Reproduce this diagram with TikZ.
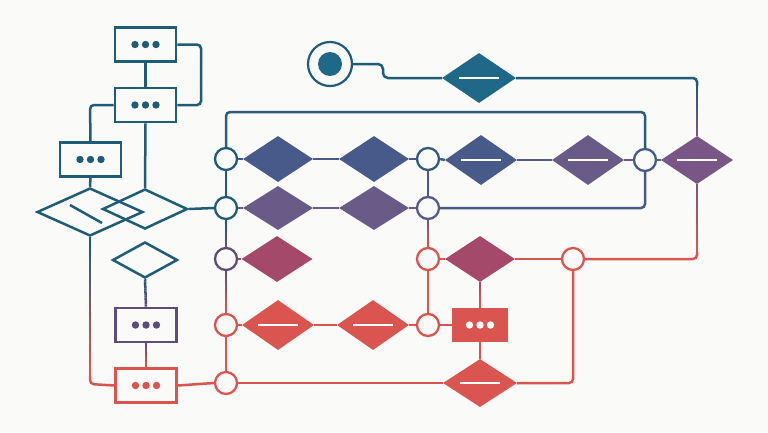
\documentclass[tikz,border=0pt]{standalone}
\usetikzlibrary{shapes.geometric,calc}
\definecolor{bgc}{HTML}{FAFAF8}
\definecolor{cTeal}{HTML}{1E5C78}
\definecolor{cTealF}{HTML}{1F6888}
\definecolor{cSlate}{HTML}{485A8A}
\definecolor{cPurp}{HTML}{695A88}
\definecolor{cPlum}{HTML}{7A5686}
\definecolor{cBoxP}{HTML}{5E4C7A}
\definecolor{cRasp}{HTML}{A5496B}
\definecolor{cRed}{HTML}{DB5550}
\newcommand\gradline[4]{%
  \foreach \k in {1,...,12}{%
    \pgfmathtruncatemacro\pc{100-(\k-1)*100/11}%
    \pgfmathsetmacro\fa{(\k-1)/12}%
    \pgfmathsetmacro\fb{\k/12}%
    \draw[line width=2.5pt, line cap=butt, color=#3!\pc!#4] ($(#1)!\fa!(#2)$) -- ($(#1)!\fb!(#2)$);
  }}
\newcommand\threedots[2]{%
  \foreach \dx in {-10.5,0,10.5}{\fill[#2] ($(#1)+(\dx,0)$) circle (3.7);}}
\newcommand\wbar[1]{\draw[white, line width=2.6pt] ($(#1)+(-20,0)$) -- ($(#1)+(20,0)$);}
\begin{document}
\begin{tikzpicture}[x=1pt,y=-1pt,
  box/.style={draw, line width=2.6pt, minimum width=61pt, minimum height=34pt, inner sep=0pt, fill=bgc},
  odia/.style={diamond, draw, line width=2.5pt, inner sep=0pt},
  fdia/.style={diamond, inner sep=0pt, minimum width=72pt, minimum height=48pt},
  circ/.style={circle, draw, line width=2.3pt, fill=bgc, minimum size=22pt, inner sep=0pt},
  conn/.style={line width=2.5pt, rounded corners=4pt}]
\fill[bgc] (0,0) rectangle (768,432);
\useasboundingbox (0,0) rectangle (768,432);

% left cluster
\node[box, draw=cTeal] (b1) at (145.5,44.5) {};
\node[box, draw=cTeal] (b2) at (145.5,105) {};
\node[box, draw=cTeal] (b3) at (90.5,159.5) {};
\node[odia, draw=cTeal, minimum width=106pt, minimum height=48pt] (dA) at (90,212) {};
\node[odia, draw=cTeal, minimum width=85pt, minimum height=40pt] (dB) at (145,209) {};
\node[odia, draw=cTeal, minimum width=65pt, minimum height=36pt] (dC) at (145,260) {};
\node[box, draw=cBoxP] (b4) at (146,325) {};
\node[box, draw=cRed] (b5) at (146,385.5) {};
\threedots{b1}{cTeal}
\threedots{b2}{cTeal}
\threedots{b3}{cTeal}
\threedots{b4}{cBoxP}
\threedots{b5}{cRed}
\draw[cTeal, line width=2.5pt] ($(dA)+(-20,-7)$) -- ($(dA)+(12,11)$);

% start
\node[circle, draw=cTeal, line width=2.2pt, minimum size=44pt, inner sep=0pt] (S0) at (330,64) {};
\fill[cTealF] (S0) circle (12);

% circles
\node[circ, draw=cTeal] (C1) at (226,159) {};
\node[circ, draw=cTeal] (C2) at (226,208) {};
\node[circ, draw=cBoxP] (C3) at (226,259) {};
\node[circ, draw=cRed] (C4) at (226,325) {};
\node[circ, draw=cRed] (C5) at (226,383) {};
\node[circ, draw=cTeal!50!cSlate] (C6) at (428,159) {};
\node[circ, draw=cSlate!60!cPurp] (C9) at (428,208) {};
\node[circ, draw=cRed] (C10) at (428,259) {};
\node[circ, draw=cRed] (C12) at (428,325) {};
\node[circ, draw=cSlate] (C8) at (645,160) {};
\node[circ, draw=cRed] (C11) at (573,259) {};

% filled diamonds
\node[fdia, fill=cTealF, minimum width=74pt, minimum height=50pt] (Dt) at (479,78) {};
\node[fdia, fill=cSlate, minimum width=70pt, minimum height=46pt] (r1a) at (278,159) {};
\node[fdia, fill=cSlate, minimum width=70pt, minimum height=46pt] (r1b) at (374,159) {};
\node[fdia, fill=cSlate, minimum height=50pt] (r1c) at (481,160) {};
\node[fdia, fill=cPurp, minimum height=50pt] (r1d) at (588,160) {};
\node[fdia, fill=cPlum] (DR) at (697,160) {};
\node[fdia, fill=cPurp, minimum width=70pt, minimum height=44pt] (r2a) at (278,208) {};
\node[fdia, fill=cPurp, minimum width=70pt, minimum height=44pt] (r2b) at (374,208) {};
\node[fdia, fill=cRasp, minimum width=71pt, minimum height=46pt] (r3a) at (277,259) {};
\node[fdia, fill=cRasp, minimum width=70pt, minimum height=46pt] (r3b) at (480,259) {};
\node[fdia, fill=cRed, minimum height=50pt] (r4a) at (278,325) {};
\node[fdia, fill=cRed, minimum height=50pt] (r4b) at (373,325) {};
\node[fdia, fill=cRed, minimum width=74pt] (Db) at (480,383) {};
\node[fill=cRed, minimum width=56pt, minimum height=34pt, inner sep=0pt] (Sb) at (480,325) {};
\threedots{Sb}{white}
\wbar{Dt}\wbar{r1c}\wbar{r1d}\wbar{DR}\wbar{r4a}\wbar{r4b}\wbar{Db}

% helper coordinates
\coordinate (k1) at (90,384);
\coordinate (k1b) at (90,376);
\coordinate (k3) at (697,259);
\coordinate (k3b) at (697,252);
\coordinate (k4) at (697,78);
\coordinate (k4b) at (697,86);

% left cluster connectors
\draw[conn, cTeal] (b1.south) -- (b2.north);
\draw[conn, cTeal] (b1.east) -- (201,44.5) -- (201,105) -- (b2.east);
\draw[conn, cTeal] (b2.west) -- (90,105) -- (b3.north);
\draw[conn, cTeal] (b3.south) -- (dA.north);
\draw[conn, cTeal] (b2.south) -- (dB.north);
\draw[conn, cTeal] (dB.east) -- (C2.west);
\gradline{dA.south}{k1b}{cTeal}{cRed}
\draw[conn, cRed] (k1b) -- (k1) -- (b5.west);
\gradline{dC.south}{b4.north}{cTeal}{cBoxP}
\gradline{b4.south}{b5.north}{cBoxP}{cRed}
\draw[conn, cRed] (b5.east) -- (C5.west);

% start line
\draw[conn, cTeal, rounded corners=5pt] (S0.east) -- (383,64) -- (383,78) -- (Dt.west);
\draw[conn, cTeal] (Dt.east) -- (k4) -- (k4b);
\gradline{k4b}{DR.north}{cTeal}{cPlum}

% loops
\draw[conn, cTeal!60!cSlate] (C1.north) -- (226,112) -- (645,112) -- (C8.north);
\draw[conn, cSlate] (C9.east) -- (645,208) -- (C8.south);

% trunk
\draw[conn, cTeal] (C1.south) -- (C2.north);
\gradline{C2.south}{C3.north}{cTeal}{cBoxP}
\gradline{C3.south}{C4.north}{cBoxP}{cRed}
\draw[conn, cRed] (C4.south) -- (C5.north);

% column 428
\draw[conn, cSlate] (C6.south) -- (C9.north);
\gradline{C9.south}{C10.north}{cPurp}{cRed}
\draw[conn, cRed] (C10.south) -- (C12.north);

% rows
\draw[conn, cSlate] (C1.east) -- (r1a.west);
\draw[conn, cSlate] (r1a.east) -- (r1b.west);
\draw[conn, cSlate] (r1b.east) -- (C6.west);
\draw[conn, cSlate] (C6.east) -- (r1c.west);
\draw[conn, cSlate!60!cPurp] (r1c.east) -- (r1d.west);
\draw[conn, cPurp] (r1d.east) -- (C8.west);
\draw[conn, cPurp] (C8.east) -- (DR.west);
\draw[conn, cPurp] (C2.east) -- (r2a.west);
\draw[conn, cPurp] (r2a.east) -- (r2b.west);
\draw[conn, cPurp] (r2b.east) -- (C9.west);
\draw[conn, cRasp] (C3.east) -- (r3a.west);
\draw[conn, cRed] (C10.east) -- (r3b.west);
\draw[conn, cRed] (r3b.east) -- (C11.west);
\draw[conn, cRed] (C11.east) -- (k3) -- (k3b);
\gradline{k3b}{DR.south}{cRed}{cPlum}
\draw[conn, cRed] (C4.east) -- (r4a.west);
\draw[conn, cRed] (r4a.east) -- (r4b.west);
\draw[conn, cRed] (r4b.east) -- (C12.west);
\draw[conn, cRed] (C12.east) -- (Sb.west);
\gradline{r3b.south}{Sb.north}{cRasp}{cRed}
\draw[conn, cRed] (Sb.south) -- (Db.north);
\draw[conn, cRed] (C5.east) -- (Db.west);
\draw[conn, cRed] (C11.south) -- (573,383) -- (Db.east);
\end{tikzpicture}
\end{document}
